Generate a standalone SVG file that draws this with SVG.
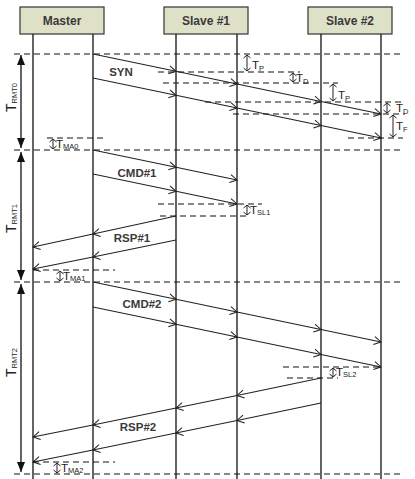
<svg xmlns="http://www.w3.org/2000/svg" width="415" height="479" viewBox="0 0 415 479">
<style>
.bg{fill:#ffffff}
.box{fill:#dfe0c8;stroke:#333333;stroke-width:1.2}
.hdr{font-family:"Liberation Sans",Arial,sans-serif;font-weight:bold;font-size:12px;fill:#3a3a3a;text-anchor:middle}
.life{stroke:#111111;stroke-width:1.3}
.dash{stroke:#111111;stroke-width:1.1;stroke-dasharray:6,4;fill:none}
.msg{stroke:#222222;stroke-width:1.1;fill:none;marker-end:url(#open)}
.lbl{font-family:"Liberation Sans",Arial,sans-serif;font-weight:bold;font-size:11.5px;fill:#3a3a3a;text-anchor:middle}
.brk{stroke:#222222;stroke-width:1;fill:none;marker-start:url(#openS);marker-end:url(#open2)}
.big{stroke:#111111;stroke-width:1.3;fill:none;marker-start:url(#fillS);marker-end:url(#fill)}
.tl{font-family:"Liberation Sans",Arial,sans-serif;font-size:11.5px;fill:#222222}
.ts{font-size:7.5px}
.tr{font-family:"Liberation Sans",Arial,sans-serif;font-size:14px;fill:#222222}
.trs{font-size:7.5px}
</style>
<defs>
<marker id="open" markerUnits="userSpaceOnUse" markerWidth="10" markerHeight="10" refX="7" refY="4" orient="auto" overflow="visible">
<path d="M0,0 L7,4 L0,8" fill="none" stroke="#222222" stroke-width="1"/>
</marker>
<marker id="open2" markerUnits="userSpaceOnUse" markerWidth="10" markerHeight="10" refX="3" refY="3.5" orient="auto" overflow="visible">
<path d="M0,0 L3,3.5 L0,7" fill="none" stroke="#222222" stroke-width="1"/>
</marker>
<marker id="openS" markerUnits="userSpaceOnUse" markerWidth="10" markerHeight="10" refX="3" refY="3.5" orient="auto-start-reverse" overflow="visible">
<path d="M0,0 L3,3.5 L0,7" fill="none" stroke="#222222" stroke-width="1"/>
</marker>
<marker id="fill" markerUnits="userSpaceOnUse" markerWidth="12" markerHeight="10" refX="10" refY="4" orient="auto" overflow="visible">
<path d="M0,0 L10,4 L0,8 Z" fill="#111111"/>
</marker>
<marker id="fillS" markerUnits="userSpaceOnUse" markerWidth="12" markerHeight="10" refX="10" refY="4" orient="auto-start-reverse" overflow="visible">
<path d="M0,0 L10,4 L0,8 Z" fill="#111111"/>
</marker>
</defs>
<rect class="bg" x="0" y="0" width="415" height="479"/>

<g id="master">
<rect class="box" x="20" y="7" width="84" height="27"/>
<text class="hdr" x="62" y="25">Master</text>
<line class="life" x1="33" y1="34" x2="33" y2="479"/>
<line class="life" x1="93" y1="34" x2="93" y2="479"/>
</g>
<g id="slave1">
<rect class="box" x="164" y="7" width="84" height="27"/>
<text class="hdr" x="206" y="25">Slave #1</text>
<line class="life" x1="176" y1="34" x2="176" y2="479"/>
<line class="life" x1="237" y1="34" x2="237" y2="479"/>
</g>
<g id="slave2">
<rect class="box" x="308" y="7" width="84" height="27"/>
<text class="hdr" x="350" y="25">Slave #2</text>
<line class="life" x1="321" y1="34" x2="321" y2="479"/>
<line class="life" x1="381" y1="34" x2="381" y2="479"/>
</g>

<g id="connectors">
<line class="dash" x1="14" y1="54" x2="400" y2="54"/>
<line class="dash" x1="14" y1="150" x2="400" y2="150"/>
<line class="dash" x1="14" y1="282" x2="400" y2="282"/>
<line class="dash" x1="14" y1="474" x2="400" y2="474"/>

<line class="dash" x1="158" y1="72" x2="300" y2="72"/>
<line class="dash" x1="163" y1="83" x2="338" y2="83"/>
<line class="dash" x1="205" y1="102" x2="405" y2="102"/>
<line class="dash" x1="233" y1="114" x2="405" y2="114"/>
<line class="dash" x1="348" y1="138" x2="403" y2="138"/>
<line class="dash" x1="47" y1="138" x2="104" y2="138"/>

<line class="msg" x1="93" y1="54" x2="176" y2="71.3"/>
<line class="msg" x1="176" y1="71.3" x2="237" y2="84"/>
<line class="msg" x1="237" y1="84" x2="321" y2="101.5"/>
<line class="msg" x1="321" y1="101.5" x2="381" y2="114"/>
<line class="msg" x1="93" y1="78" x2="176" y2="95.3"/>
<line class="msg" x1="176" y1="95.3" x2="237" y2="108"/>
<line class="msg" x1="237" y1="108" x2="321" y2="125.5"/>
<line class="msg" x1="321" y1="125.5" x2="381" y2="138"/>

<line class="msg" x1="93" y1="150" x2="176" y2="167.3"/>
<line class="msg" x1="176" y1="167.3" x2="237" y2="180"/>
<line class="msg" x1="93" y1="174" x2="176" y2="191.3"/>
<line class="msg" x1="176" y1="191.3" x2="237" y2="204"/>
<line class="dash" x1="158" y1="204" x2="262" y2="204"/>
<line class="dash" x1="160" y1="216" x2="250" y2="216"/>

<line class="msg" x1="176" y1="216" x2="93" y2="234"/>
<line class="msg" x1="93" y1="234" x2="33" y2="247"/>
<line class="msg" x1="176" y1="240" x2="93" y2="257"/>
<line class="msg" x1="93" y1="257" x2="33" y2="269"/>
<line class="dash" x1="33" y1="270" x2="115" y2="270"/>

<line class="msg" x1="93" y1="282" x2="176" y2="299.3"/>
<line class="msg" x1="176" y1="299.3" x2="237" y2="312"/>
<line class="msg" x1="237" y1="312" x2="321" y2="329.5"/>
<line class="msg" x1="321" y1="329.5" x2="381" y2="342"/>
<line class="msg" x1="93" y1="307" x2="176" y2="324.3"/>
<line class="msg" x1="176" y1="324.3" x2="237" y2="337"/>
<line class="msg" x1="237" y1="337" x2="321" y2="354.5"/>
<line class="msg" x1="321" y1="354.5" x2="381" y2="367"/>
<line class="dash" x1="283" y1="367" x2="381" y2="367"/>
<line class="dash" x1="287" y1="378" x2="338" y2="378"/>

<line class="msg" x1="321" y1="378" x2="237" y2="395.5"/>
<line class="msg" x1="237" y1="395.5" x2="176" y2="408"/>
<line class="msg" x1="176" y1="408" x2="93" y2="425"/>
<line class="msg" x1="93" y1="425" x2="33" y2="437"/>
<line class="msg" x1="321" y1="403" x2="237" y2="420.5"/>
<line class="msg" x1="237" y1="420.5" x2="176" y2="433"/>
<line class="msg" x1="176" y1="433" x2="93" y2="450"/>
<line class="msg" x1="93" y1="450" x2="33" y2="462"/>
<line class="dash" x1="33" y1="462" x2="115" y2="462"/>

<line class="brk" x1="247" y1="55" x2="247" y2="71"/>
<line class="brk" x1="293" y1="73" x2="293" y2="82"/>
<line class="brk" x1="333" y1="84" x2="333" y2="101"/>
<line class="brk" x1="387" y1="103" x2="387" y2="113"/>
<line class="brk" x1="393" y1="115" x2="393" y2="137"/>
<line class="brk" x1="53" y1="139" x2="53" y2="149"/>
<line class="brk" x1="247" y1="205" x2="247" y2="215"/>
<line class="brk" x1="60" y1="271" x2="60" y2="281"/>
<line class="brk" x1="333" y1="368" x2="333" y2="377"/>
<line class="brk" x1="57" y1="463" x2="57" y2="473"/>

<line class="big" x1="21" y1="55" x2="21" y2="148"/>
<line class="big" x1="21" y1="152" x2="21" y2="280"/>
<line class="big" x1="21" y1="284" x2="21" y2="472"/>
</g>

<g id="labels">
<text class="lbl" x="121" y="76">SYN</text>
<text class="lbl" x="137" y="177">CMD#1</text>
<text class="lbl" x="132" y="242">RSP#1</text>
<text class="lbl" x="142" y="308">CMD#2</text>
<text class="lbl" x="138" y="431">RSP#2</text>

<text class="tl" x="252" y="69">T<tspan class="ts" dy="2">P</tspan></text>
<text class="tl" x="296" y="82">T<tspan class="ts" dy="2">D</tspan></text>
<text class="tl" x="338" y="99">T<tspan class="ts" dy="2">P</tspan></text>
<text class="tl" x="396" y="112">T<tspan class="ts" dy="2">D</tspan></text>
<text class="tl" x="396" y="130">T<tspan class="ts" dy="2">F</tspan></text>
<text class="tl" x="56" y="148">T<tspan class="ts" dy="1">MA0</tspan></text>
<text class="tl" x="250" y="214">T<tspan class="ts" dy="1">SL1</tspan></text>
<text class="tl" x="63" y="280">T<tspan class="ts" dy="1">MA1</tspan></text>
<text class="tl" x="336" y="376">T<tspan class="ts" dy="1">SL2</tspan></text>
<text class="tl" x="61" y="472">T<tspan class="ts" dy="1">MA2</tspan></text>

<text class="tr" transform="translate(16,112) rotate(-90)">T<tspan class="trs" dy="1">RMT0</tspan></text>
<text class="tr" transform="translate(16,233) rotate(-90)">T<tspan class="trs" dy="1">RMT1</tspan></text>
<text class="tr" transform="translate(16,377) rotate(-90)">T<tspan class="trs" dy="1">RMT2</tspan></text>
</g>
</svg>
